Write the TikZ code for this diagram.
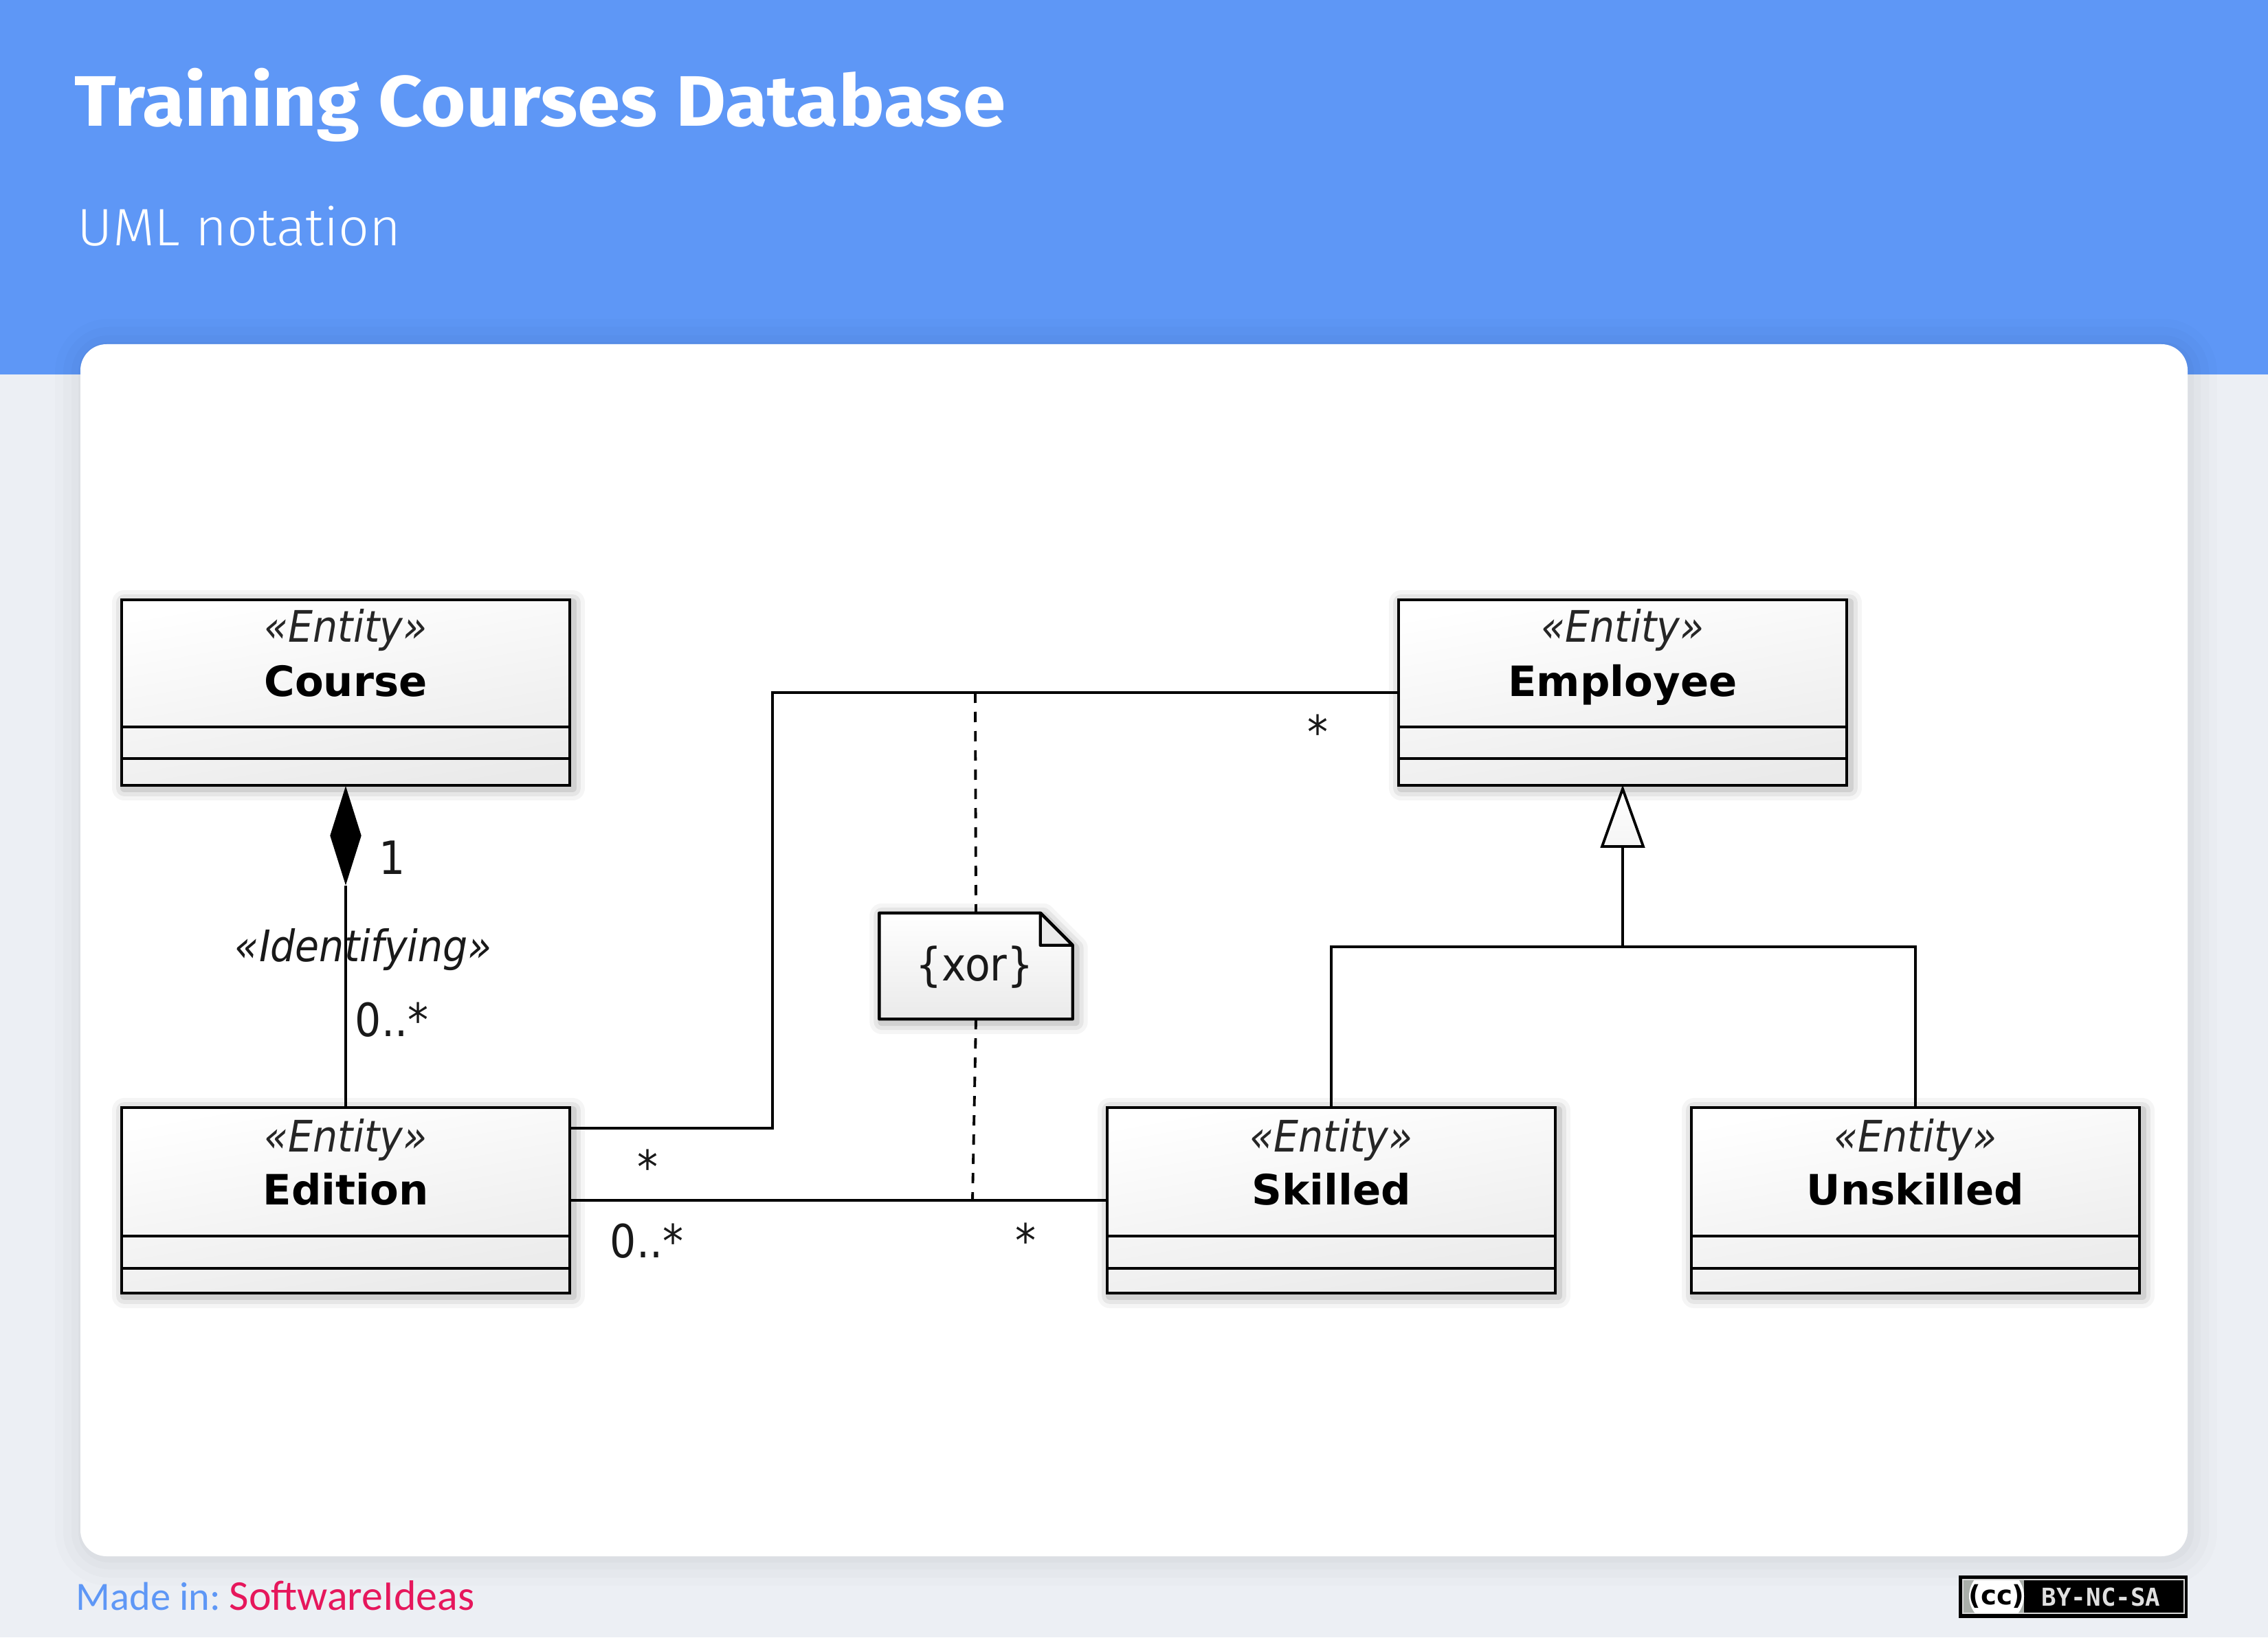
\documentclass[tikz,border=0pt]{standalone}
\usepackage{fontspec}
\setmainfont{DejaVu Sans}
\newfontfamily\umlfont{DejaVu Sans Condensed}
\newfontfamily\headfont[FakeStretch=1.08]{Fira Sans}
\newfontfamily\headlightfont[FakeStretch=1.03]{Fira Sans Light}
\newfontfamily\footfont{Carlito}
\newfontfamily\badgefont{DejaVu Sans Mono}
\usetikzlibrary{positioning,shapes.geometric}
\definecolor{headerblue}{HTML}{5E97F6}
\definecolor{pagegray}{HTML}{ECEFF4}
\definecolor{boxgray}{HTML}{EAEAEA}
\definecolor{softpink}{HTML}{E6175C}
\definecolor{badgegray}{HTML}{A9AEA9}
\tikzset{
	softshadow/.style={
		preaction={draw=black,draw opacity=.04,line width=.36cm,line join=round,transform canvas={shift={(.04,-.04)}}},
		preaction={draw=black,draw opacity=.06,line width=.24cm,line join=round,transform canvas={shift={(.04,-.04)}}},
		preaction={draw=black,draw opacity=.09,line width=.12cm,line join=round,transform canvas={shift={(.04,-.04)}}}},
	cardshadow/.style={
		preaction={draw=black,draw opacity=.012,line width=.80cm,line join=round,transform canvas={shift={(.03,-.03)}}},
		preaction={draw=black,draw opacity=.014,line width=.56cm,line join=round,transform canvas={shift={(.03,-.03)}}},
		preaction={draw=black,draw opacity=.016,line width=.32cm,line join=round,transform canvas={shift={(.03,-.03)}}},
		preaction={draw=black,draw opacity=.02,line width=.12cm,line join=round,transform canvas={shift={(.03,-.03)}}}},
	entitybox/.style={softshadow,draw=black,line width=1.25pt,top color=white,bottom color=boxgray,shading angle=10,
		minimum width=6.52cm,minimum height=2.70cm,inner sep=0pt,outer sep=0pt},
	stereotext/.style={anchor=base,inner sep=0pt,text=black!85,font=\umlfont\itshape\fontsize{18}{20}\selectfont},
	entitytext/.style={anchor=base,inner sep=0pt,font=\bfseries\fontsize{17.3}{20}\selectfont},
	multtext/.style={inner sep=0pt,text=black!90,font=\umlfont\fontsize{19}{21}\selectfont},
	foottext/.style={anchor=base west,inner sep=0pt},
	umlline/.style={line width=1.1pt},
	notefill/.style={softshadow,draw=black,line width=1.25pt,top color=white,bottom color=boxgray,line join=round}
}
\begin{document}
\begin{tikzpicture}
	\useasboundingbox (0,0) rectangle (33,23.83);
	\fill[pagegray] (0,0) rectangle (33,23.83);
	\fill[headerblue] (0,18.38) rectangle (33,23.83);
	\path[cardshadow,fill=white,rounded corners=.38cm] (1.17,1.18) rectangle (31.83,18.82);

	\node[anchor=base west,inner sep=0pt,text=white,font=\headfont\bfseries\fontsize{29.6}{34}\selectfont] (title) at (1.08,21.99) {Training Courses Database};
	\node[anchor=base west,inner sep=0pt,text=white,font=\headlightfont\fontsize{21.8}{26}\selectfont] (subtitle) at (1.12,20.25) {UML notation};

	\node[entitybox] (course) at (5.03,13.75) {};
	\node[entitybox] (employee) at (23.61,13.75) {};
	\node[entitybox] (edition) at (5.03,6.36) {};
	\node[entitybox] (skilled) at (19.37,6.36) {};
	\node[entitybox] (unskilled) at (27.87,6.36) {};

	\draw[umlline] ([yshift=-1.85cm]course.north west) -- ([yshift=-1.85cm]course.north east);
	\draw[umlline] ([yshift=-2.31cm]course.north west) -- ([yshift=-2.31cm]course.north east);
	\draw[umlline] ([yshift=-1.85cm]employee.north west) -- ([yshift=-1.85cm]employee.north east);
	\draw[umlline] ([yshift=-2.31cm]employee.north west) -- ([yshift=-2.31cm]employee.north east);
	\draw[umlline] ([yshift=-1.87cm]edition.north west) -- ([yshift=-1.87cm]edition.north east);
	\draw[umlline] ([yshift=-2.34cm]edition.north west) -- ([yshift=-2.34cm]edition.north east);
	\draw[umlline] ([yshift=-1.87cm]skilled.north west) -- ([yshift=-1.87cm]skilled.north east);
	\draw[umlline] ([yshift=-2.34cm]skilled.north west) -- ([yshift=-2.34cm]skilled.north east);
	\draw[umlline] ([yshift=-1.87cm]unskilled.north west) -- ([yshift=-1.87cm]unskilled.north east);
	\draw[umlline] ([yshift=-2.34cm]unskilled.north west) -- ([yshift=-2.34cm]unskilled.north east);

	\node[stereotext] (coursetype) at ([yshift=-.62cm]course.north) {«Entity»};
	\node[entitytext] (coursename) at ([yshift=-1.41cm]course.north) {Course};
	\node[stereotext] (employeetype) at ([yshift=-.62cm]employee.north) {«Entity»};
	\node[entitytext] (employeename) at ([yshift=-1.41cm]employee.north) {Employee};
	\node[stereotext] (editiontype) at ([yshift=-.64cm]edition.north) {«Entity»};
	\node[entitytext] (editionname) at ([yshift=-1.41cm]edition.north) {Edition};
	\node[stereotext] (skilledtype) at ([yshift=-.64cm]skilled.north) {«Entity»};
	\node[entitytext] (skilledname) at ([yshift=-1.41cm]skilled.north) {Skilled};
	\node[stereotext] (unskilledtype) at ([yshift=-.64cm]unskilled.north) {«Entity»};
	\node[entitytext] (unskilledname) at ([yshift=-1.41cm]unskilled.north) {Unskilled};

	\node[diamond,aspect=.33,fill=black,inner sep=0pt,minimum width=.46cm,minimum height=1.45cm,anchor=north] (partof) at (course.south) {};
	\draw[umlline] (partof.south) -- (edition.north);

	\coordinate (bendtop) at (11.24,13.75);
	\coordinate (xortop) at (14.19,13.75);
	\coordinate (xorbottom) at (14.15,6.36);
	\draw[umlline] ([yshift=1.05cm]edition.east) -| (bendtop) -- (employee.west);
	\draw[umlline] (edition.east) -- (skilled.west);

	\node[inner sep=0pt,minimum width=2.80cm,minimum height=1.53cm] (xornote) at (14.20,9.77) {};
	\draw[umlline,dashed,dash pattern=on .15cm off .13cm] (xortop) -- (xornote.north);
	\draw[umlline,dashed,dash pattern=on .15cm off .13cm] (xornote.south) -- (xorbottom);
	\draw[notefill] (xornote.south west) -- (xornote.north west) -- ([xshift=-.47cm]xornote.north east) -- ([yshift=-.47cm]xornote.north east) -- (xornote.south east) -- cycle;
	\draw[line width=1.25pt,line join=round,fill=boxgray] ([xshift=-.47cm]xornote.north east) -- ([xshift=-.47cm,yshift=-.47cm]xornote.north east) -- ([yshift=-.47cm]xornote.north east) -- cycle;
	\node[inner sep=0pt,text=black!90,font=\umlfont\fontsize{19}{21}\selectfont] (xortext) at (14.18,9.75) {\{xor\}};

	\node[isosceles triangle,isosceles triangle stretches,shape border rotate=90,draw=black,line width=1.1pt,top color=white,bottom color=black!4,inner sep=0pt,minimum width=.60cm,minimum height=.84cm,anchor=apex] (parent) at (employee.south) {};
	\coordinate (genjoin) at (23.61,10.05);
	\draw[umlline] (parent.lower side) -- (genjoin);
	\draw[umlline] (skilled.north) |- (genjoin) -| (unskilled.north);

	\node[multtext] (coursemult) at (5.71,11.35) {1};
	\node[multtext,font=\umlfont\itshape\fontsize{18}{20}\selectfont] (identifying) at (5.29,10.01) {«Identifying»};
	\node[multtext] (editionmult) at (5.70,8.99) {0..*};
	\node[multtext] (employeemult) at (19.17,13.18) {*};
	\node[multtext] (attendmult) at (9.43,6.85) {*};
	\node[multtext] (teachmult) at (9.41,5.77) {0..*};
	\node[multtext] (skilledmult) at (14.92,5.78) {*};

	\node[foottext,font=\footfont\fontsize{16.6}{20}\selectfont,text=headerblue] (madein) at (1.10,.40) {Made in:};
	\node[foottext,font=\footfont\fontsize{17.6}{20}\selectfont,text=softpink] (toolname) at (3.33,.40) {SoftwareIdeas};

	\fill[black] (28.50,.28) rectangle (31.83,.90);
	\draw[black!15,line width=.4pt] (28.56,.35) rectangle (31.78,.84);
	\fill[badgegray] (28.57,.36) rectangle (29.45,.83);
	\begin{scope}
		\clip (28.57,.36) rectangle (29.50,.83);
		\fill[white] (29.05,.60) circle (.40);
	\end{scope}
	\node[inner sep=0pt,font=\bfseries\fontsize{11}{12}\selectfont] (cclogo) at (29.05,.60) {(cc)};
	\node[anchor=west,inner sep=0pt,text=black!12,font=\badgefont\bfseries\fontsize{10.2}{12}\selectfont] (cclicence) at (29.70,.59) {BY-NC-SA};
\end{tikzpicture}
\end{document}
